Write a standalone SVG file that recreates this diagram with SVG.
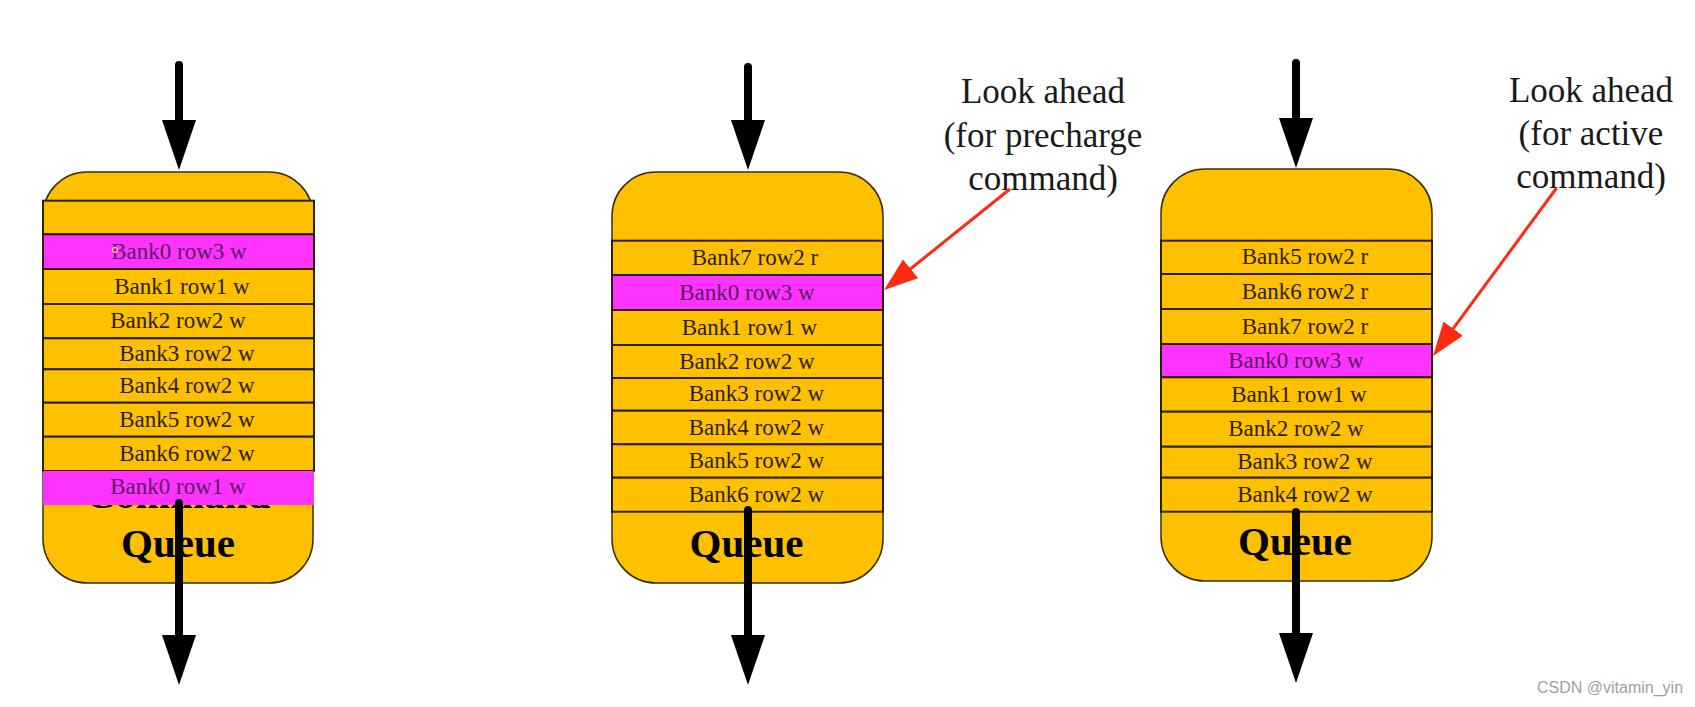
<svg xmlns="http://www.w3.org/2000/svg" width="1695" height="707" viewBox="0 0 1695 707">
<style>
.box{fill:#FFC000;stroke:#3a3000;stroke-width:1.5}
.row{fill:#FFC000;stroke:#2a2200;stroke-width:2}
.hot{fill:#FF33FF;stroke:#2a2200;stroke-width:2}
.t{font-family:"Liberation Serif","Times New Roman",serif;font-size:23px;fill:#2b2200;text-anchor:middle}
.th{font-family:"Liberation Serif","Times New Roman",serif;font-size:23px;fill:#5b1b63;text-anchor:middle}
.q{font-family:"Liberation Serif","Times New Roman",serif;font-size:41px;font-weight:bold;fill:#000;text-anchor:middle}
.lab{font-family:"Liberation Serif","Times New Roman",serif;font-size:35px;fill:#1a1a1a;text-anchor:middle}
.blk{stroke:#000;stroke-width:8;fill:none;stroke-linecap:round;marker-end:url(#bh)}
.red{stroke:#FF2A12;stroke-width:3;fill:none;marker-end:url(#rh)}
.wm{font-family:"Liberation Sans",Arial,sans-serif;font-size:16px;fill:#a0a0a0}
</style>
<defs>
<marker id="bh" markerUnits="userSpaceOnUse" viewBox="0 0 50 34" refX="10" refY="17" markerWidth="50" markerHeight="34" orient="auto">
<path d="M0,0 L50,17 L0,34 z" fill="#000"/>
</marker>
<marker id="rh" markerUnits="userSpaceOnUse" viewBox="0 0 34 24" refX="28" refY="12" markerWidth="34" markerHeight="24" orient="auto">
<path d="M0,0 L34,12 L0,24 z" fill="#FF2A12"/>
</marker>
<clipPath id="cmdclip"><rect x="43" y="505" width="271" height="10"/></clipPath>
</defs>
<rect width="1695" height="707" fill="#fff"/>

<g id="queue-left">
<rect class="box" x="43" y="172" width="270" height="411" rx="44" ry="44"/>
<text class="q" x="178" y="508" clip-path="url(#cmdclip)">Command</text>
<text class="q" x="178" y="557">Queue</text>
<rect class="row" x="43" y="200.7" width="271" height="33.6"/>
<rect class="hot" x="43" y="234.3" width="271" height="34.7"/>
<text class="th" x="179" y="258.6">Bank0 row3 w</text>
<circle cx="115" cy="250" r="2.5" fill="#e0201a" stroke="#fff" stroke-width="1"/>
<rect class="row" x="43" y="269" width="271" height="35"/>
<text class="t" x="182" y="293.5">Bank1 row1 w</text>
<rect class="row" x="43" y="304" width="271" height="34.3"/>
<text class="t" x="178" y="328.2">Bank2 row2 w</text>
<rect class="row" x="43" y="338.3" width="271" height="31"/>
<text class="t" x="187" y="360.8">Bank3 row2 w</text>
<rect class="row" x="43" y="369.3" width="271" height="33.4"/>
<text class="t" x="187" y="393">Bank4 row2 w</text>
<rect class="row" x="43" y="402.7" width="271" height="34"/>
<text class="t" x="187" y="426.7">Bank5 row2 w</text>
<rect class="row" x="43" y="436.7" width="271" height="34.3"/>
<text class="t" x="187" y="460.8">Bank6 row2 w</text>
<rect x="43" y="471" width="271" height="34" fill="#FF33FF"/>
<text class="th" x="178" y="494">Bank0 row1 w</text>
</g>

<g id="queue-middle">
<rect class="box" x="612" y="172" width="271" height="411" rx="44" ry="44"/>
<text class="q" x="746.5" y="557">Queue</text>
<rect class="row" x="612" y="240.7" width="271" height="34.3"/>
<text class="t" x="755" y="264.8">Bank7 row2 r</text>
<rect class="hot" x="612" y="275" width="271" height="35"/>
<text class="th" x="747" y="299.5">Bank0 row3 w</text>
<rect class="row" x="612" y="310" width="271" height="35"/>
<text class="t" x="749.5" y="334.5">Bank1 row1 w</text>
<rect class="row" x="612" y="345" width="271" height="33"/>
<text class="t" x="747" y="368.5">Bank2 row2 w</text>
<rect class="row" x="612" y="378" width="271" height="32.7"/>
<text class="t" x="756.5" y="401.4">Bank3 row2 w</text>
<rect class="row" x="612" y="410.7" width="271" height="33.6"/>
<text class="t" x="756.5" y="434.5">Bank4 row2 w</text>
<rect class="row" x="612" y="444.3" width="271" height="33.4"/>
<text class="t" x="756.5" y="468">Bank5 row2 w</text>
<rect class="row" x="612" y="477.7" width="271" height="34"/>
<text class="t" x="756.5" y="501.7">Bank6 row2 w</text>
</g>

<g id="queue-right">
<rect class="box" x="1161" y="169" width="271" height="412" rx="44" ry="44"/>
<text class="q" x="1295" y="555">Queue</text>
<rect class="row" x="1161" y="240.7" width="271" height="33.3"/>
<text class="t" x="1305" y="264.4">Bank5 row2 r</text>
<rect class="row" x="1161" y="274" width="271" height="35"/>
<text class="t" x="1305" y="298.5">Bank6 row2 r</text>
<rect class="row" x="1161" y="309" width="271" height="35"/>
<text class="t" x="1305" y="333.5">Bank7 row2 r</text>
<rect class="hot" x="1161" y="344" width="271" height="33.3"/>
<text class="th" x="1296" y="367.7">Bank0 row3 w</text>
<rect class="row" x="1161" y="377.3" width="271" height="34.4"/>
<text class="t" x="1299" y="401.5">Bank1 row1 w</text>
<rect class="row" x="1161" y="411.7" width="271" height="35"/>
<text class="t" x="1296" y="436.2">Bank2 row2 w</text>
<rect class="row" x="1161" y="446.7" width="271" height="31"/>
<text class="t" x="1305" y="469.2">Bank3 row2 w</text>
<rect class="row" x="1161" y="477.7" width="271" height="34"/>
<text class="t" x="1305" y="501.7">Bank4 row2 w</text>
</g>

<g id="label-precharge">
<text class="lab" x="1043" y="103">Look ahead</text>
<text class="lab" x="1043" y="146.5">(for precharge</text>
<text class="lab" x="1043" y="190">command)</text>
</g>

<g id="label-active">
<text class="lab" x="1591" y="101.5">Look ahead</text>
<text class="lab" x="1591" y="145">(for active</text>
<text class="lab" x="1591" y="188">command)</text>
</g>

<g id="connectors">
<line class="blk" x1="179" y1="65" x2="179" y2="130"/>
<line class="blk" x1="179" y1="503" x2="179" y2="645"/>
<line class="blk" x1="748" y1="67" x2="748" y2="130"/>
<line class="blk" x1="748" y1="510" x2="748" y2="645"/>
<line class="blk" x1="1296" y1="63" x2="1296" y2="128"/>
<line class="blk" x1="1296" y1="512" x2="1296" y2="643"/>
<line class="red" x1="1010" y1="189" x2="888.7" y2="286.3"/>
<line class="red" x1="1556.6" y1="188" x2="1436.6" y2="351.2"/>
</g>

<text class="wm" x="1537" y="693">CSDN @vitamin_yin</text>
</svg>
